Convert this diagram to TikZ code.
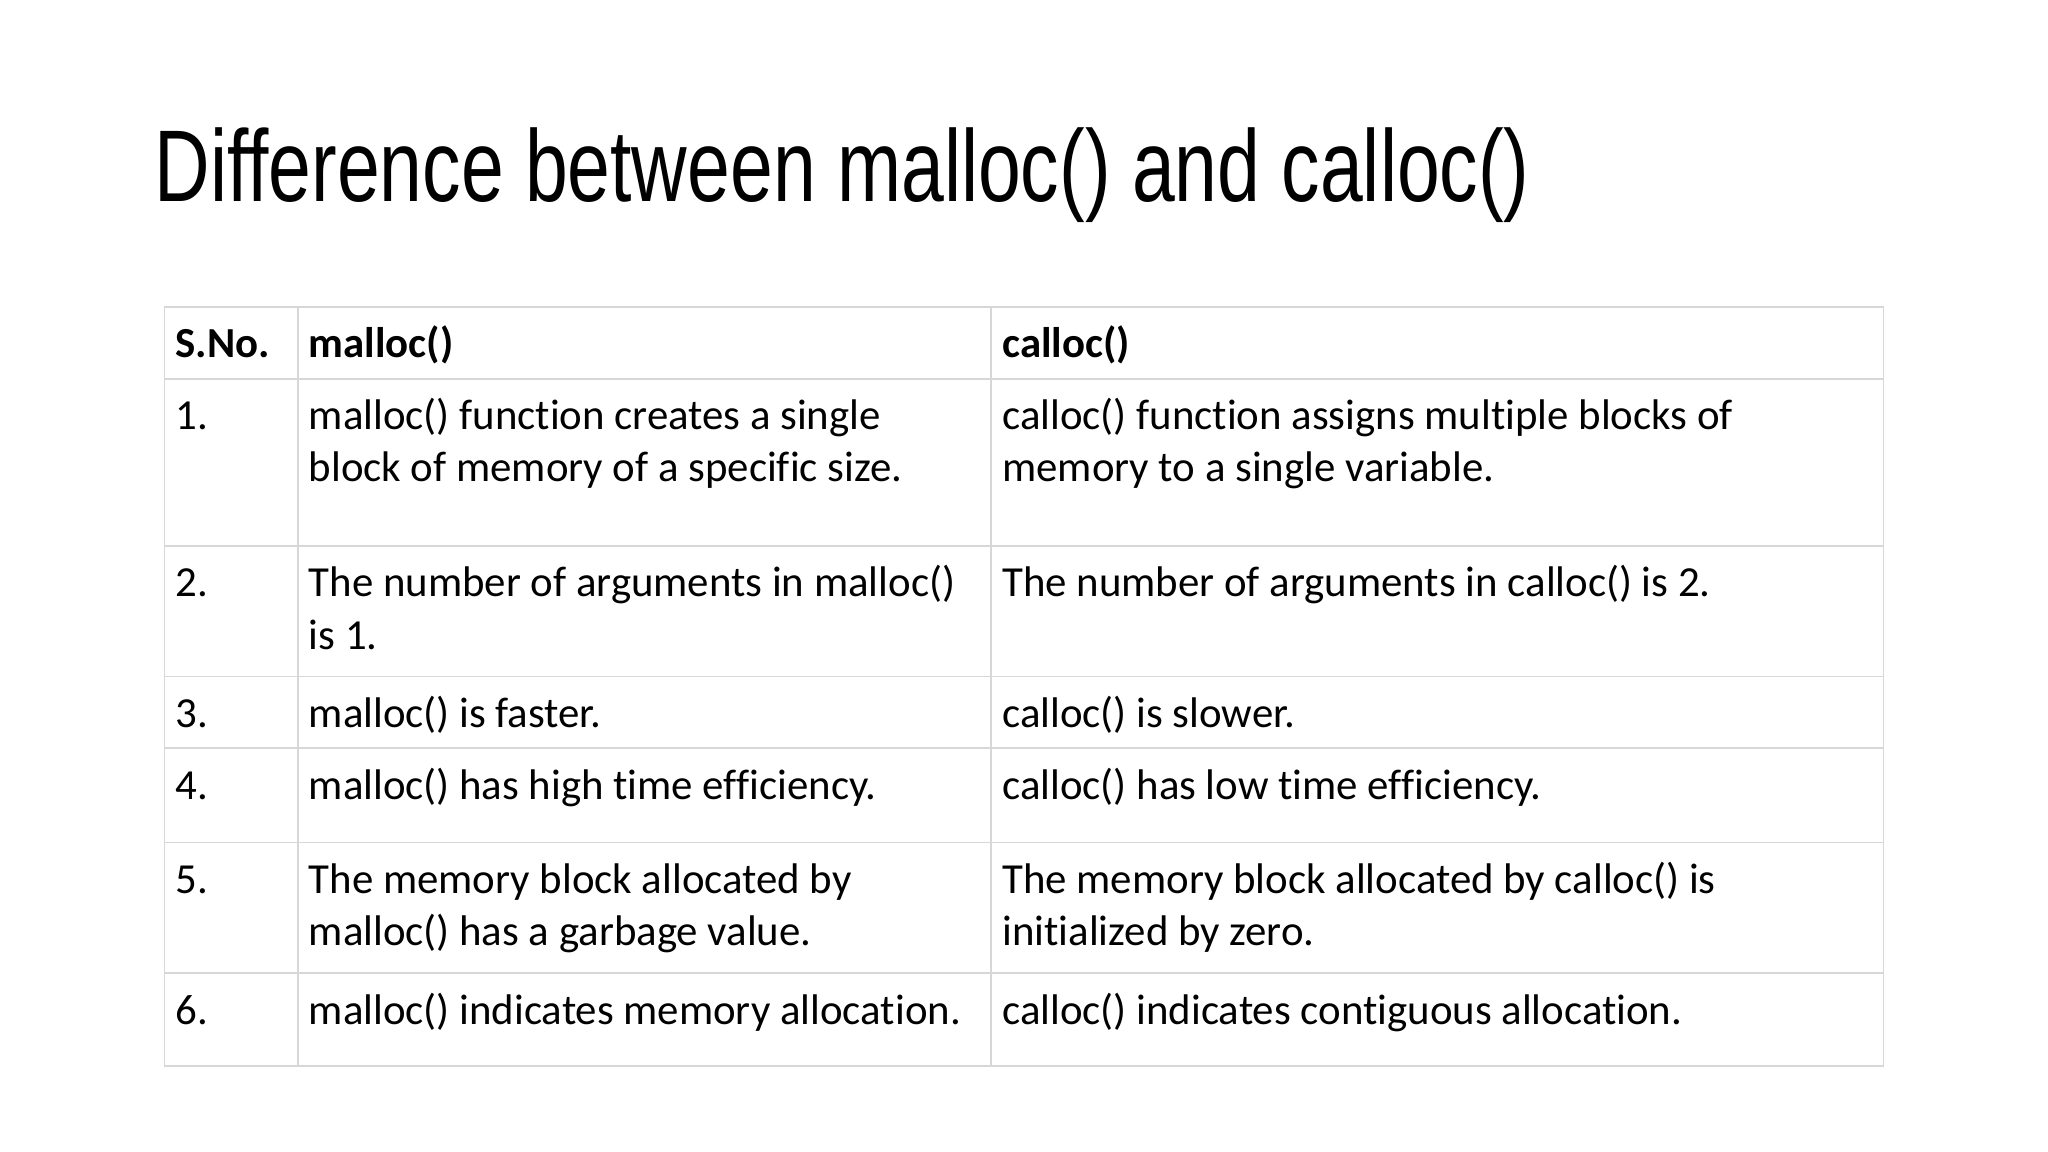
\documentclass[tikz,border=0pt]{standalone}
\usepackage{fontspec}
\setmainfont[Ligatures=NoCommon]{Carlito}
\newfontfamily\titlefont[FakeStretch=0.755]{Liberation Sans}
\definecolor{grid}{RGB}{215,215,215}
\begin{document}
\begin{tikzpicture}[x=0.5pt,y=-0.5pt,
  cell/.style={anchor=base west,inner sep=0pt,font=\fontsize{16.4}{20}\selectfont},
  hcell/.style={cell,font=\fontsize{16.4}{20}\selectfont\bfseries}]
\useasboundingbox (0,0) rectangle (1568,882);
\fill[white] (0,0) rectangle (1568,882);
\node[anchor=base west,inner sep=0pt,font=\titlefont\fontsize{39}{44}\selectfont] (title) at (118,154) {Difference between malloc() and calloc()};
\draw[grid,line width=0.7pt] (126,235) rectangle (1442,816);
\foreach \y in {290,418,518,573,645,745} \draw[grid,line width=0.7pt] (126,\y) -- (1442,\y);
\foreach \x in {228,759} \draw[grid,line width=0.7pt] (\x,235) -- (\x,816);
% header
\node[hcell] (h1) at (134,274) {S.No.};
\node[hcell] (h2) at (236,274) {malloc()};
\node[hcell] (h3) at (767,274) {calloc()};
% row 1
\node[cell] (a1) at (134,329) {1.};
\node[cell] (b1) at (236,329) {malloc() function creates a single};
\node[cell] (b1b) at (236,369) {block of memory of a specific size.};
\node[cell] (c1) at (767,329) {calloc() function assigns multiple blocks of};
\node[cell] (c1b) at (767,369) {memory to a single variable.};
% row 2
\node[cell] (a2) at (134,457) {2.};
\node[cell] (b2) at (236,457) {The number of arguments in malloc()};
\node[cell] (b2b) at (236,497) {is 1.};
\node[cell] (c2) at (767,457) {The number of arguments in calloc() is 2.};
% row 3
\node[cell] (a3) at (134,557) {3.};
\node[cell] (b3) at (236,557) {malloc() is faster.};
\node[cell] (c3) at (767,557) {calloc() is slower.};
% row 4
\node[cell] (a4) at (134,612) {4.};
\node[cell] (b4) at (236,612) {malloc() has high time efficiency.};
\node[cell] (c4) at (767,612) {calloc() has low time efficiency.};
% row 5
\node[cell] (a5) at (134,684) {5.};
\node[cell] (b5) at (236,684) {The memory block allocated by};
\node[cell] (b5b) at (236,724) {malloc() has a garbage value.};
\node[cell] (c5) at (767,684) {The memory block allocated by calloc() is};
\node[cell] (c5b) at (767,724) {initialized by zero.};
% row 6
\node[cell] (a6) at (134,784) {6.};
\node[cell] (b6) at (236,784) {malloc() indicates memory allocation.};
\node[cell] (c6) at (767,784) {calloc() indicates contiguous allocation.};
\end{tikzpicture}
\end{document}
